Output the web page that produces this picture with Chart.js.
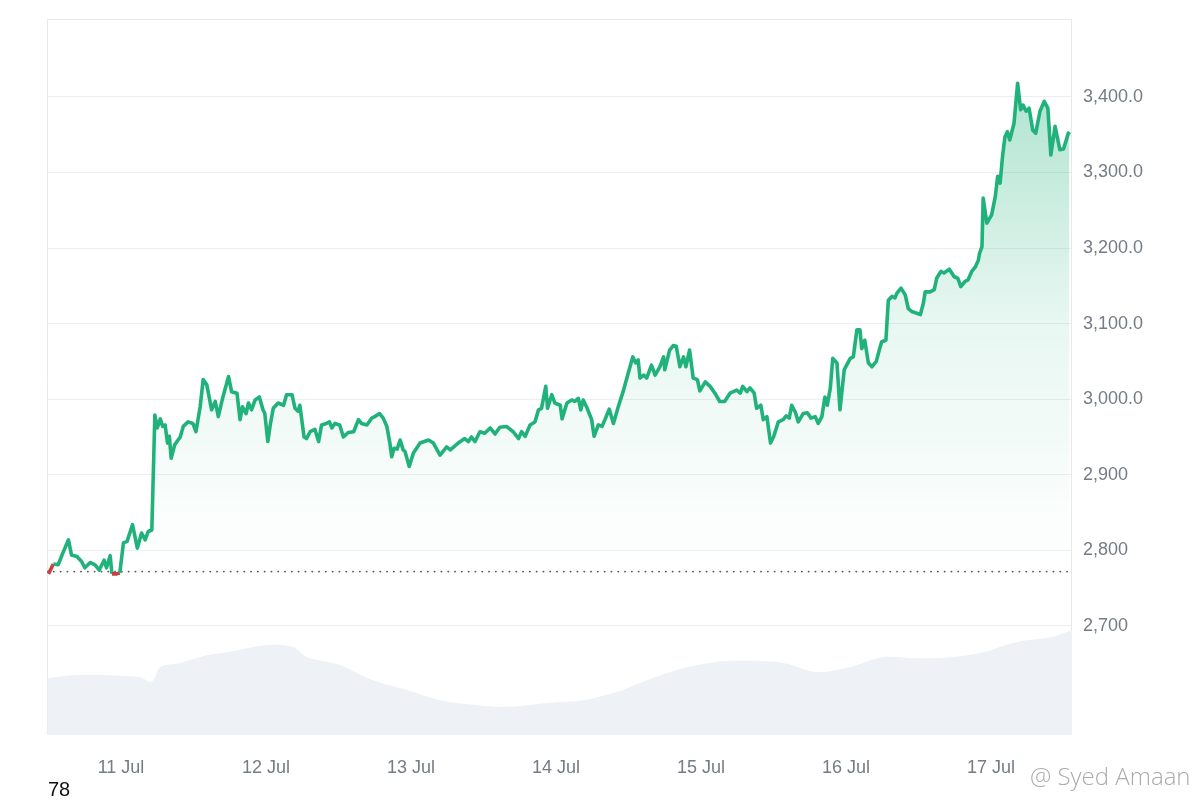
<!DOCTYPE html>
<html>
<head>
<meta charset="utf-8">
<script src="https://cdn.jsdelivr.net/npm/chart.js@4.4.1/dist/chart.umd.min.js"></script>
<style>
html, body { margin: 0; padding: 0; background: #fff; }
#contenedor { position: relative; width: 1200px; height: 800px; }
#pie { position: absolute; left: 48px; top: 778px; font: 20px "Liberation Sans", Arial, sans-serif; color: #111; }
#marca { position: absolute; left: 1030px; top: 759px; font: 24px "Open Sans", "Liberation Sans", Arial, sans-serif; font-weight: 300; color: rgba(150,150,150,0.8); }
</style>
</head>
<body>
<div id="contenedor">
  <canvas id="graficaPrecio"></canvas>
  <div id="pie">78</div>
  <div id="marca">@ Syed Amaan</div>
</div>
<script>
// horas desde el 11 Jul 00:00
const horas = [
  -12.0,-11.2,-10.4,-9.6,-8.7,-8.2,-7.3,-6.5,-6.0,-5.1,
  -4.3,-3.6,-2.8,-2.4,-1.8,-1.5,-0.7,-0.2,0.4,1.0,
  1.9,2.7,3.4,4.0,4.5,5.1,5.6,6.0,6.5,6.9,
  7.3,7.7,8.0,8.3,8.9,9.8,10.3,11.1,11.9,12.4,
  13.1,13.6,14.2,15.0,15.6,16.1,16.8,17.8,18.3,19.2,
  19.7,20.1,20.7,21.1,21.6,22.2,22.9,23.5,23.8,24.3,
  24.7,25.2,26.0,26.9,27.4,28.3,28.8,29.3,29.6,30.3,
  30.7,31.3,32.1,32.7,33.2,34.0,34.5,34.9,35.4,36.2,
  36.8,37.6,38.5,39.3,39.8,40.7,41.5,42.0,42.8,43.4,
  44.0,44.5,44.8,45.2,45.7,46.2,46.7,47.0,47.7,48.4,
  49.5,50.9,51.7,52.8,53.9,54.5,55.8,56.9,57.5,58.0,
  58.6,59.4,60.2,61.1,61.9,62.7,63.8,64.9,65.8,66.3,
  66.9,67.7,68.5,69.1,69.6,70.3,70.6,71.3,71.8,72.7,
  73.0,73.8,74.6,75.1,75.7,76.1,76.5,77.1,77.9,78.3,
  79.0,79.6,80.1,80.8,81.5,82.3,83.1,84.0,84.7,85.2,
  85.6,85.9,86.5,87.0,87.8,88.4,89.2,89.8,90.0,90.8,
  91.4,91.9,92.5,93.1,93.5,94.1,94.7,95.4,95.8,96.7,
  97.5,98.3,99.1,99.9,100.8,101.9,102.5,102.9,103.6,104.1,
  104.8,105.2,105.9,106.3,106.9,107.5,108.0,108.8,109.6,110.1,
  110.6,111.0,111.6,112.1,112.9,113.6,114.2,114.9,115.4,116.0,
  116.5,116.9,117.4,117.8,118.5,119.0,119.7,120.1,120.7,121.2,
  121.8,122.3,122.6,123.1,123.7,124.3,125.0,125.5,125.9,126.6,
  127.0,127.6,128.1,128.4,129.1,129.8,130.3,130.9,131.6,132.3,
  132.8,133.1,133.9,134.6,135.0,135.7,136.2,137.1,137.9,138.5,
  139.0,139.7,140.2,140.8,141.4,141.9,142.1,142.5,142.7,143.3,
  144.1,144.7,145.1,145.5,145.9,146.3,146.7,147.1,147.8,148.4,
  148.9,149.3,149.8,150.3,150.9,151.4,152.1,152.8,153.4,153.9,
  154.6,155.4,156.0,156.8,157.0
];
const precios = [
  2769,2782,2781,2797,2814,2794,2792,2785,2777,2784,
  2781,2774,2787,2777,2793,2769,2769,2770,2810,2812,
  2834,2803,2823,2814,2825,2827,2979,2962,2974,2964,
  2966,2942,2951,2922,2940,2950,2964,2970,2968,2957,
  2990,3026,3019,2986,2997,2977,3001,3030,3010,3008,
  2973,2990,2981,2995,2986,2999,3003,2986,2981,2944,
  2966,2988,2995,2992,3006,3006,2988,2984,2992,2950,
  2948,2957,2960,2944,2966,2968,2970,2962,2968,2966,
  2950,2956,2957,2973,2968,2966,2975,2977,2981,2975,
  2964,2942,2924,2935,2934,2946,2933,2931,2911,2929,
  2942,2946,2942,2926,2937,2933,2942,2948,2944,2950,
  2944,2957,2955,2962,2954,2963,2964,2957,2948,2957,
  2951,2966,2970,2986,2988,3017,2988,3006,2995,2992,
  2974,2995,2999,2997,3001,2986,2999,2989,2973,2951,
  2966,2964,2973,2987,2968,2990,3010,3036,3056,3048,
  3052,3028,3032,3028,3045,3032,3043,3056,3039,3065,
  3071,3070,3043,3056,3043,3065,3028,3026,3011,3023,
  3017,3008,2997,2997,3008,3012,3008,3017,3010,3015,
  3008,2988,2992,2973,2977,2942,2950,2970,2973,2978,
  2975,2992,2983,2970,2981,2982,2975,2977,2968,2977,
  3003,2992,3015,3054,3048,2986,3039,3045,3054,3056,
  3092,3092,3067,3078,3048,3043,3050,3065,3076,3078,
  3131,3136,3134,3140,3147,3138,3120,3116,3114,3112,
  3127,3142,3142,3145,3160,3169,3167,3172,3162,3160,
  3149,3156,3158,3169,3175,3184,3193,3202,3266,3233,
  3244,3268,3295,3286,3321,3347,3354,3343,3365,3418,
  3383,3389,3381,3385,3356,3352,3381,3394,3385,3323,
  3361,3330,3331,3352,3350
];
const precioBase = 2772;

// volumen (miles de millones)
const horasVolumen = [-12.2,-7.9,-2.3,3.1,5.1,6.5,9.8,14.2,18.5,24.2,28.5,30.8,36.2,41.7,47.3,52.8,58.3,63.9,71.0,76.5,82.1,86.4,92.0,98.6,104.1,109.6,115.2,120.7,126.1,131.8,137.2,142.7,148.3,153.8,157.4];
const volumen = [11.1,11.7,11.7,11.3,10.4,13.3,14.1,15.6,16.4,17.6,17.2,15.2,13.7,10.7,8.8,6.8,5.9,5.5,6.3,6.8,8.4,10.4,12.7,14.3,14.5,14.1,12.3,13.3,15.2,15.0,15.2,16.2,18.2,19.1,20.5];

const marcasX = [0, 24, 48, 72, 96, 120, 144];
const etiquetasX = ['11 Jul', '12 Jul', '13 Jul', '14 Jul', '15 Jul', '16 Jul', '17 Jul'];
const marcasY = [2700, 2800, 2900, 3000, 3100, 3200, 3300, 3400];
const etiquetasY = ['2,700', '2,800', '2,900', '3,000.0', '3,100.0', '3,200.0', '3,300.0', '3,400.0'];

const xMin = -12.25, xMax = 157.4;
const yMin = 2555.8, yMax = 3503;

const verde = '#21b27c';
const rojo = '#c9413f';

function rellenoVerde(context) {
  const chart = context.chart;
  const area = chart.chartArea;
  if (!area || !chart.scales.y) return 'rgba(33,178,124,0.15)';
  const yBase = chart.scales.y.getPixelForValue(precioBase);
  const g = chart.ctx.createLinearGradient(0, area.top + 60, 0, yBase);
  g.addColorStop(0, 'rgba(33,178,124,0.36)');
  g.addColorStop(0.5, 'rgba(33,178,124,0.10)');
  g.addColorStop(1, 'rgba(33,178,124,0.0)');
  return g;
}

const marcoGrafica = {
  id: 'marcoGrafica',
  beforeDatasetsDraw(chart) {
    const { ctx, chartArea: a } = chart;
    ctx.save();
    ctx.strokeStyle = '#e6e8eb';
    ctx.lineWidth = 1;
    ctx.beginPath();
    ctx.moveTo(a.left + 0.5, a.bottom);
    ctx.lineTo(a.left + 0.5, a.top + 0.5);
    ctx.lineTo(a.right - 0.5, a.top + 0.5);
    ctx.lineTo(a.right - 0.5, a.bottom);
    ctx.stroke();
    ctx.restore();
  }
};

const $lienzo = document.getElementById('graficaPrecio');

new Chart($lienzo, {
  type: 'line',
  data: {
    datasets: [
      {
        label: 'Precio',
        data: horas.map((h, i) => ({ x: h, y: precios[i] })),
        borderColor: verde,
        borderWidth: 3.6,
        borderJoinStyle: 'round',
        backgroundColor: rellenoVerde,
        fill: { target: { value: precioBase }, below: 'rgba(201,65,63,0.08)' },
        pointRadius: 0,
        tension: 0,
        order: 1,
        segment: {
          borderColor: ctx => (ctx.p0.parsed.y < precioBase && ctx.p1.parsed.y < precioBase + 15) ? rojo : undefined
        }
      },
      {
        label: 'Base',
        data: [{ x: xMin, y: precioBase }, { x: xMax, y: precioBase }],
        borderColor: '#555',
        borderWidth: 1.8,
        borderDash: [0.1, 6.7],
        borderCapStyle: 'round',
        pointRadius: 0,
        fill: false,
        order: 2
      },
      {
        label: 'Volumen',
        data: horasVolumen.map((h, i) => ({ x: h, y: volumen[i] })),
        yAxisID: 'y2',
        borderWidth: 0,
        borderColor: 'rgba(0,0,0,0)',
        backgroundColor: '#eef1f5',
        fill: 'origin',
        pointRadius: 0,
        tension: 0.3,
        order: 3
      }
    ]
  },
  options: {
    responsive: true,
    maintainAspectRatio: false,
    animation: false,
    layout: { padding: { left: 47, top: 19, right: 0, bottom: 0 } },
    plugins: { legend: { display: false }, tooltip: { enabled: false } },
    scales: {
      x: {
        type: 'linear',
        min: xMin,
        max: xMax,
        afterBuildTicks: scale => { scale.ticks = marcasX.map(v => ({ value: v })); },
        afterFit: scale => { scale.height = 65; scale.paddingLeft = 0; scale.paddingRight = 0; },
        grid: { display: false },
        border: { display: false },
        ticks: {
          padding: 14,
          maxRotation: 0,
          autoSkip: false,
          color: '#757c85',
          font: { family: '"Liberation Sans", Arial, sans-serif', size: 18 },
          callback: value => etiquetasX[marcasX.indexOf(value)]
        }
      },
      y: {
        position: 'right',
        min: yMin,
        max: yMax,
        afterBuildTicks: scale => { scale.ticks = marcasY.map(v => ({ value: v })); },
        afterFit: scale => { scale.width = 128; scale.paddingTop = 0; scale.paddingBottom = 0; },
        grid: { color: '#eeeeee', lineWidth: 1, drawTicks: false },
        border: { display: false },
        ticks: {
          padding: 11,
          color: '#757c85',
          font: { family: '"Liberation Sans", Arial, sans-serif', size: 18 },
          callback: value => etiquetasY[marcasY.indexOf(value)]
        }
      },
      y2: {
        display: false,
        min: 0,
        max: 140
      }
    }
  },
  plugins: [marcoGrafica]
});
</script>
</body>
</html>
